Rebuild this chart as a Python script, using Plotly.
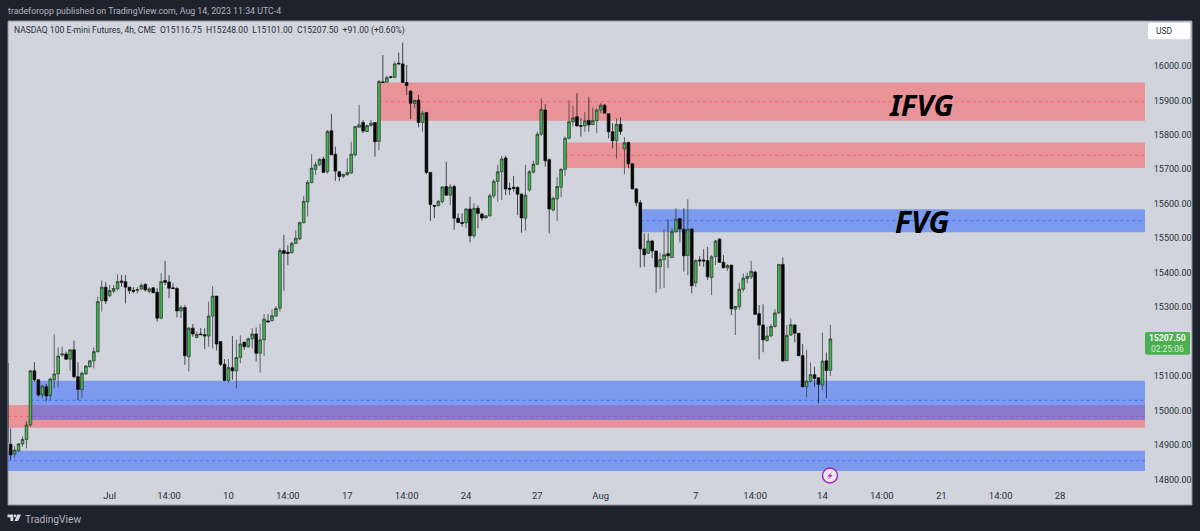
import plotly.graph_objects as go

W, H = 1200, 531

opens = [15137,
14902,14874,14883,14903,14916,14958,15115,15089,15045,15069,
15043,15089,15106,15161,15164,15149,15176,15098,15061,15106,
15127,15144,15171,15319,15358,15333,15346,15353,15376,15374,
15358,15349,15348,15353,15366,15346,15356,15343,15268,15377,
15373,15356,15354,15289,15299,15156,15239,15212,15222,15220,
15216,15274,15332,15200,15134,15087,15124,15115,15154,15198,
15185,15208,15222,15166,15205,15260,15261,15274,15297,15464,
15459,15458,15485,15498,15545,15606,15662,15700,15713,15730,
15693,15812,15744,15693,15680,15685,15689,15742,15822,15836,
15810,15827,15836,15781,15954,15953,15969,15967,16008,16006,
15952,15927,15891,15901,15836,15865,15691,15595,15595,15606,
15650,15625,15650,15558,15546,15545,15585,15507,15587,15570,
15559,15565,15623,15665,15693,15733,15645,15648,15648,15628,
15558,15640,15692,15715,15802,15872,15728,15582,15614,15648,
15700,15790,15838,15853,15827,15826,15842,15830,15841,15872,
15886,15861,15809,15783,15831,15759,15778,15716,15643,15603,
15469,15456,15492,15463,15417,15438,15455,15444,15519,15557,
15526,15450,15527,15371,15437,15437,15435,15386,15447,15497,
15430,15414,15422,15294,15301,15352,15383,15388,15402,15281,
15248,15203,15216,15244,15283,15424,15145,15219,15248,15224,
15159,15069,15084,15104,15095,15074,15144,15116.75]

highs = [15139,
14948,14897,14905,14924,14968,15118,15140,15089,15074,15077,
15096,15221,15183,15185,15171,15178,15203,15140,15113,15132,
15147,15183,15330,15377,15372,15364,15364,15395,15393,15393,
15359,15358,15358,15369,15369,15358,15358,15355,15398,15434,
15393,15369,15359,15306,15306,15243,15251,15229,15239,15239,
15316,15361,15332,15200,15149,15149,15216,15205,15218,15200,
15212,15239,15241,15251,15280,15280,15294,15303,15471,15510,
15480,15490,15524,15548,15623,15669,15744,15722,15732,15737,
15814,15861,15766,15695,15688,15732,15780,15826,15887,15843,
15829,15843,15836,15959,16032,15972,15971,16013,16039,16068,
16003,15930,15903,15916,15870,15867,15691,15596,15611,15650,
15722,15657,15655,15572,15572,15587,15621,15601,15596,15574,
15567,15630,15671,15713,15739,15739,15661,15681,15650,15630,
15713,15698,15725,15809,15906,15889,15732,15621,15677,15703,
15795,15901,15884,15921,15848,15867,15909,15880,15877,15892,
15890,15863,15834,15848,15851,15793,15780,15717,15645,15611,
15514,15514,15495,15463,15458,15526,15555,15529,15587,15558,
15587,15613,15529,15439,15448,15468,15475,15451,15495,15500,
15451,15425,15422,15303,15371,15398,15400,15434,15406,15306,
15308,15243,15251,15294,15425,15444,15248,15267,15250,15224,
15193,15176,15139,15127,15095,15226,15168,15248]

lows = [14905,
14856,14863,14880,14895,14890,14953,15084,15040,15035,15026,
15030,15064,15067,15156,15147,15116,15093,15030,15035,15103,
15125,15122,15168,15287,15309,15330,15340,15348,15359,15311,
15338,15340,15340,15350,15345,15340,15340,15258,15265,15364,
15326,15353,15270,15268,15132,15113,15214,15209,15219,15178,
15185,15180,15174,15129,15087,15081,15089,15064,15137,15176,
15183,15180,15142,15110,15158,15257,15258,15272,15287,15348,
15422,15456,15483,15495,15543,15563,15659,15684,15710,15691,
15688,15742,15666,15666,15674,15681,15688,15737,15822,15805,
15808,15824,15737,15756,15952,15952,15964,15964,16006,15952,
15916,15846,15877,15822,15809,15686,15550,15558,15592,15601,
15623,15596,15524,15545,15534,15529,15488,15500,15529,15551,
15557,15563,15616,15606,15611,15625,15625,15635,15567,15516,
15522,15635,15688,15713,15797,15708,15514,15577,15550,15619,
15681,15787,15824,15824,15795,15809,15809,15829,15805,15863,
15861,15790,15761,15732,15800,15686,15703,15643,15592,15415,
15417,15456,15442,15342,15353,15356,15413,15442,15516,15488,
15403,15393,15340,15359,15419,15417,15379,15335,15422,15430,
15413,15405,15277,15219,15292,15345,15369,15381,15277,15148,
15169,15200,15214,15241,15280,15141,15142,15217,15198,15158,
15067,15038,15081,15069,15021,15059,15035,15101]

closes = [14905,
14871,14885,14903,14916,14958,15115,15089,15045,15071,15042,
15091,15106,15158,15164,15149,15176,15098,15061,15108,15129,
15144,15171,15316,15358,15318,15348,15354,15374,15372,15358,
15348,15346,15351,15363,15350,15353,15342,15268,15374,15372,
15355,15354,15289,15299,15159,15239,15222,15221,15220,15216,
15274,15332,15193,15134,15087,15125,15115,15154,15193,15185,
15208,15222,15166,15205,15265,15257,15275,15296,15464,15456,
15456,15485,15500,15545,15607,15662,15703,15713,15729,15691,
15810,15742,15695,15679,15685,15691,15744,15824,15829,15811,
15827,15834,15780,15955,15952,15966,15967,16006,16006,15952,
15943,15892,15900,15836,15863,15691,15598,15593,15607,15649,
15625,15649,15558,15546,15543,15585,15507,15587,15572,15559,
15565,15623,15665,15693,15730,15643,15642,15645,15628,15559,
15625,15693,15715,15802,15874,15725,15585,15616,15650,15700,
15790,15838,15849,15826,15825,15841,15829,15842,15872,15886,
15863,15809,15783,15831,15810,15777,15716,15643,15603,15469,
15452,15492,15463,15417,15438,15452,15449,15520,15555,15527,
15449,15526,15362,15435,15434,15434,15388,15446,15492,15430,
15414,15421,15295,15302,15352,15384,15389,15404,15279,15248,
15205,15216,15244,15283,15424,15144,15218,15249,15224,15159,
15069,15085,15104,15093,15076,15143,15116,15207.5]

tick_bars = [26, 41, 56, 71, 86, 101, 116, 134, 150, 174, 189, 206, 221, 236, 251, 266]
tick_text = ["Jul", "14:00", "10", "14:00", "17", "14:00", "24", "27", "Aug", "7", "14:00", "14", "14:00", "21", "14:00", "28"]
price_ticks = [14800, 14900, 15000, 15100, 15300, 15400, 15500, 15600, 15700, 15800, 15900, 16000]

zone_start = [94, 141, 160, 6, 0, 0]
zone_top = [15952, 15778, 15584, 15086, 15016, 14883]
zone_mid = [15896.5, 15741, 15551, 15029.5, 14983, 14854]
zone_bottom = [15841, 15704, 15517, 14972, 14950, 14824]
zone_kind = ["red", "red", "blue", "blue", "red", "blue"]

X_RANGE = [0.33, 287.45]
Y_RANGE = [14783.6, 16127.7]

BG = "#1e222d"
PANEL = "#d1d4dc"
FONT = "Roboto"
FILLS = {"red": "rgba(255,82,82,0.5)", "blue": "rgba(41,98,255,0.5)"}
DASHES = {"red": "rgba(255,82,82,0.75)", "blue": "rgba(41,98,255,0.75)"}

def px(x): return x / W
def py(y): return 1 - y / H

def rrect(x0, y0, x1, y1, r):
    return (f"M{px(x0+r)},{py(y0)} L{px(x1-r)},{py(y0)} Q{px(x1)},{py(y0)} {px(x1)},{py(y0+r)} "
            f"L{px(x1)},{py(y1-r)} Q{px(x1)},{py(y1)} {px(x1-r)},{py(y1)} L{px(x0+r)},{py(y1)} "
            f"Q{px(x0)},{py(y1)} {px(x0)},{py(y1-r)} L{px(x0)},{py(y0+r)} Q{px(x0)},{py(y0)} {px(x0+r)},{py(y0)} Z")

def poly(points):
    return "M" + " L".join(f"{px(a)},{py(b)}" for a, b in points) + " Z"

fig = go.Figure(go.Candlestick(
    x=list(range(len(opens))), open=opens, high=highs, low=lows, close=closes,
    increasing=dict(line=dict(color="#2c3033", width=0.7), fillcolor="#3fb54b"),
    decreasing=dict(line=dict(color="#0a0a0a", width=0.7), fillcolor="#050505"),
    whiskerwidth=0, hoverinfo="skip", showlegend=False,
))

shapes = [
    dict(type="rect", xref="paper", yref="paper", x0=px(8), x1=px(1192), y0=py(505), y1=py(21),
         fillcolor=PANEL, line=dict(color="#8d919c", width=1), layer="below"),
]
for order in ("red", "blue"):
    for s, t, m, b, k in zip(zone_start, zone_top, zone_mid, zone_bottom, zone_kind):
        if k != order:
            continue
        x0 = max(s, X_RANGE[0])
        shapes.append(dict(type="rect", xref="x", yref="y", x0=x0, x1=X_RANGE[1], y0=b, y1=t,
                           fillcolor=FILLS[k], line=dict(width=0), layer="below"))
        shapes.append(dict(type="line", xref="x", yref="y", x0=x0, x1=X_RANGE[1], y0=m, y1=m,
                           line=dict(color=DASHES[k], width=1, dash="3px,3px"), layer="below"))

shapes += [
    dict(type="path", xref="paper", yref="paper", path=rrect(1148, 22.7, 1190, 39.3, 2),
         fillcolor="#ffffff", line=dict(width=0)),
    dict(type="path", xref="paper", yref="paper", path=rrect(1145, 332, 1190, 354.7, 2),
         fillcolor="#4caf50", line=dict(width=0)),
    dict(type="circle", xref="paper", yref="paper", x0=px(822.5), x1=px(837.5), y0=py(483), y1=py(468),
         fillcolor="#eee6f2", line=dict(color="#9c27b0", width=1.4)),
    dict(type="path", xref="paper", yref="paper",
         path=poly([(832.6, 471.4), (827.4, 476.4), (829.9, 476.4), (827.4, 480), (832.6, 475), (830.1, 475)]),
         fillcolor="#9c27b0", line=dict(width=0)),
    dict(type="path", xref="paper", yref="paper",
         path=poly([(7.5, 514.5), (13.3, 514.5), (13.3, 521), (10.4, 521), (10.4, 517.3), (7.5, 517.3)]),
         fillcolor="#d8dae0", line=dict(width=0)),
    dict(type="circle", xref="paper", yref="paper", x0=px(13.8), x1=px(16.4), y0=py(517.2), y1=py(514.6),
         fillcolor="#d8dae0", line=dict(width=0)),
    dict(type="path", xref="paper", yref="paper",
         path=poly([(17.3, 514.5), (21, 514.5), (18, 521), (14.5, 521)]),
         fillcolor="#d8dae0", line=dict(width=0)),
]

def note(x, y, text, size, color, family=FONT, anchor="left"):
    return dict(xref="paper", yref="paper", x=px(x), y=py(y), text=text, showarrow=False,
                xanchor=anchor, yanchor="middle", borderpad=0,
                font=dict(family=family, size=size, color=color))

annotations = [
    note(7, 11, "tradeforopp published on TradingView.com, Aug 14, 2023 11:34 UTC-4", 8.8, "#b2b5be"),
    note(13, 31, "NASDAQ 100 E-mini Futures, 4h, CME &nbsp;O15116.75 &nbsp;H15248.00 &nbsp;L15101.00 &nbsp;C15207.50 &nbsp;+91.00 (+0.60%)", 8.55, "#2a2e39"),
    note(24, 519, "TradingView", 10.2, "#b2b5be"),
    note(1155, 31.5, "USD", 8.5, "#2a2e39"),
    note(1167.5, 343.8, "<b>15207.50</b><br><span style='color:#d9f0da'>02:25:06</span>", 8.5, "#ffffff", anchor="center"),
    note(921, 104, "<b><i>IFVG</i></b>", 29, "#000000", family="Noto Sans", anchor="center"),
    note(922, 222, "<b><i>FVG</i></b>", 30, "#000000", family="Noto Sans", anchor="center"),
]

fig.update_layout(
    width=W, height=H, autosize=False,
    margin=dict(l=0, r=0, t=0, b=0),
    paper_bgcolor=BG, plot_bgcolor="rgba(0,0,0,0)",
    shapes=shapes, annotations=annotations, boxgap=0.02,
    hovermode=False, dragmode=False, showlegend=False,
    xaxis=dict(domain=[px(8), px(1145)], range=X_RANGE, rangeslider=dict(visible=False),
               showgrid=False, zeroline=False, showline=False, fixedrange=True,
               tickmode="array", tickvals=tick_bars, ticktext=tick_text,
               ticks="outside", ticklen=2, tickcolor="rgba(0,0,0,0)", tickangle=0,
               tickfont=dict(family=FONT, size=9.5, color="#2a2e39")),
    yaxis=dict(domain=[py(485), py(22)], range=Y_RANGE, side="right",
               showgrid=False, zeroline=False, showline=False, fixedrange=True,
               tickmode="array", tickvals=price_ticks,
               ticktext=[f"{v:.2f}" for v in price_ticks],
               ticks="outside", ticklen=6, tickcolor="rgba(0,0,0,0)",
               tickfont=dict(family=FONT, size=9, color="#2a2e39")),
)

fig.write_html("out.html", config=dict(displayModeBar=False),
               post_script="document.body.style.margin='0';document.body.style.background='#1e222d';")
